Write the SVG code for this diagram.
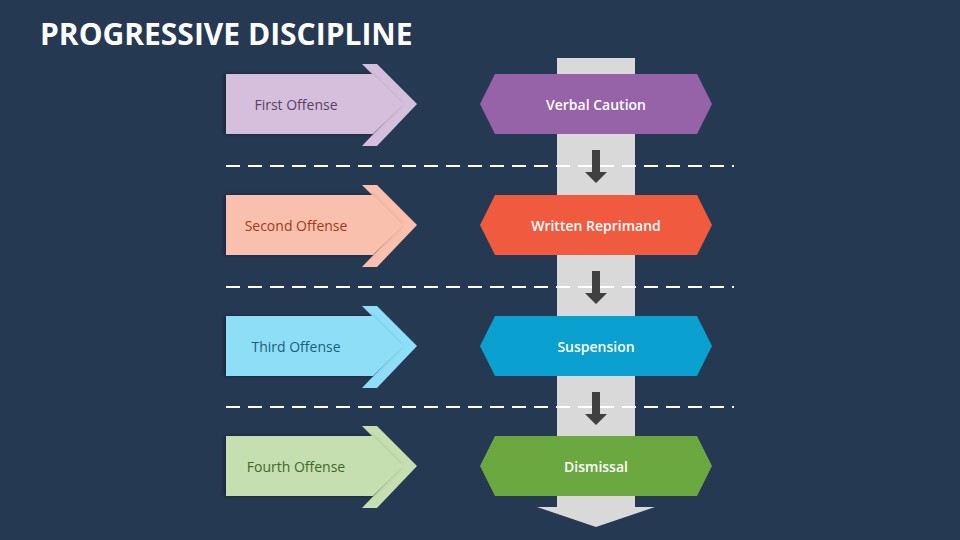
<svg xmlns="http://www.w3.org/2000/svg" width="960" height="540" viewBox="0 0 960 540">
<defs><style>
.lbl{font-family:"Open Sans","Liberation Sans",sans-serif;font-size:14px;text-anchor:middle;dominant-baseline:central}
.hx{font-family:"Open Sans","Liberation Sans",sans-serif;font-size:14px;font-weight:600;fill:#fff;text-anchor:middle;dominant-baseline:central}
.dash{stroke:#fff;stroke-width:2;stroke-dasharray:14 8}
</style>
<filter id="sh" x="-20%" y="-20%" width="140%" height="140%"><feDropShadow dx="-2" dy="0" stdDeviation="2" flood-color="#000" flood-opacity="0.35"/></filter>
</defs>
<rect width="960" height="540" fill="#253953"/>
<text x="40" y="45" font-family="'Open Sans','Liberation Sans',sans-serif" font-size="30" font-weight="700" fill="#fff">PROGRESSIVE DISCIPLINE</text>
<g id="connectors">
<polygon points="557,58 635,58 635,507 655,507 596,527 537,507 557,507" fill="#D9D9D9"/>
<line class="dash" x1="226" y1="166" x2="734" y2="166"/>
<line class="dash" x1="226" y1="287" x2="734" y2="287"/>
<line class="dash" x1="226" y1="407" x2="734" y2="407"/>
<polygon points="592,150 600,150 600,172 607,172 596,183 585,172 592,172" fill="#404040"/>
<polygon points="592,271 600,271 600,293 607,293 596,304 585,293 592,293" fill="#404040"/>
<polygon points="592,392 600,392 600,414 607,414 596,425 585,414 592,414" fill="#404040"/>
</g>
<g id="offense1" transform="translate(0,0)">
<polygon points="362,64 377,64 417,104 377,146 362,146 402,104" fill="#D5BFDD"/>
<polygon points="226,74 373,74 403,104 373,134 226,134" fill="#D5BFDD" filter="url(#sh)"/>
<text class="lbl" x="296" y="104" fill="#5B3F66">First Offense</text>
</g>
<g id="offense2" transform="translate(0,121)">
<polygon points="362,64 377,64 417,104 377,146 362,146 402,104" fill="#F9C0AE"/>
<polygon points="226,74 373,74 403,104 373,134 226,134" fill="#F9C0AE" filter="url(#sh)"/>
<text class="lbl" x="296" y="104" fill="#A1381F">Second Offense</text>
</g>
<g id="offense3" transform="translate(0,242)">
<polygon points="362,64 377,64 417,104 377,146 362,146 402,104" fill="#8EDEF8"/>
<polygon points="226,74 373,74 403,104 373,134 226,134" fill="#8EDEF8" filter="url(#sh)"/>
<text class="lbl" x="296" y="104" fill="#1B5E7A">Third Offense</text>
</g>
<g id="offense4" transform="translate(0,362)">
<polygon points="362,64 377,64 417,104 377,146 362,146 402,104" fill="#C5DFB0"/>
<polygon points="226,74 373,74 403,104 373,134 226,134" fill="#C5DFB0" filter="url(#sh)"/>
<text class="lbl" x="296" y="104" fill="#3D6A2A">Fourth Offense</text>
</g>
<g id="verbal"><polygon points="480,104 495,74 697,74 712,104 697,134 495,134" fill="#9663A8"/><text class="hx" x="596" y="104">Verbal Caution</text></g>
<g id="written"><polygon points="480,225 495,195 697,195 712,225 697,255 495,255" fill="#F05A3E"/><text class="hx" x="596" y="225">Written Reprimand</text></g>
<g id="suspension"><polygon points="480,346 495,316 697,316 712,346 697,376 495,376" fill="#0AA0CF"/><text class="hx" x="596" y="346">Suspension</text></g>
<g id="dismissal"><polygon points="480,466 495,436 697,436 712,466 697,496 495,496" fill="#6BA840"/><text class="hx" x="596" y="466">Dismissal</text></g>
</svg>
